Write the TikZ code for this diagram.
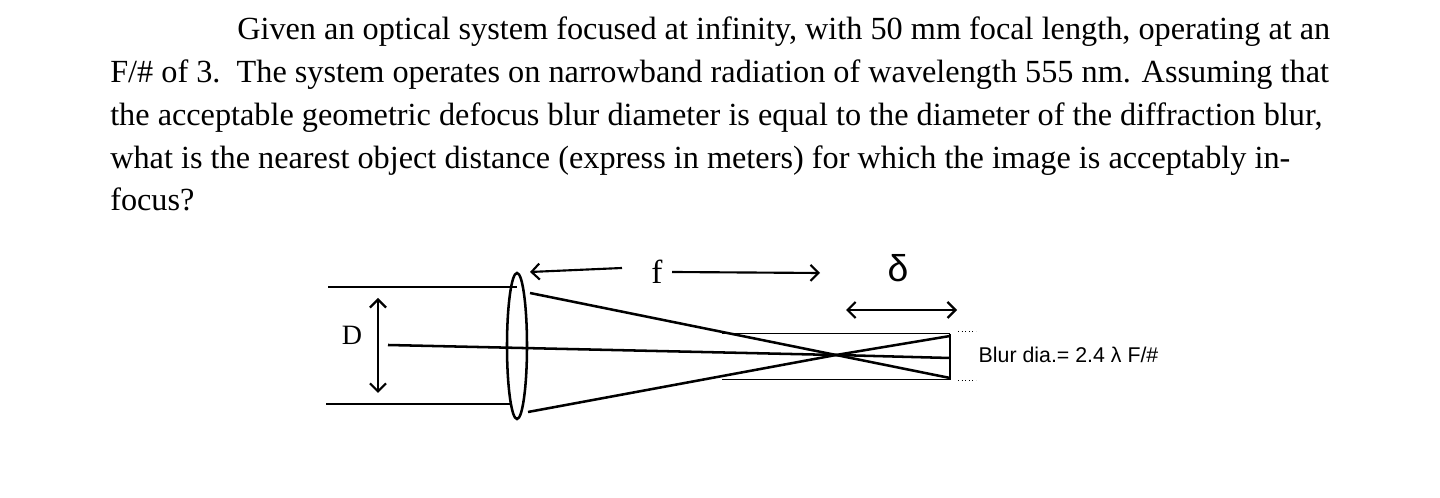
\documentclass[tikz,border=0pt]{standalone}
\usepackage{fontspec}
\setmainfont{Liberation Serif}
\newfontfamily\arialf{Liberation Sans}
\usetikzlibrary{arrows.meta}
\begin{document}
\begin{tikzpicture}[x=0.75pt,y=-0.75pt,
  txt/.style={anchor=base west,inner sep=0pt,font=\fontsize{24.2}{28}\selectfont},
  ray/.style={line width=1.9pt},
  thin/.style={line width=0.7pt},
  hand/.style={line width=1.6pt,{Straight Barb[length=6pt]}-{Straight Barb[length=6pt]}}]
\useasboundingbox (0,0) rectangle (1440,498);
\node[txt] (l1) at (237,40) {Given an optical system focused at infinity, with 50 mm focal length, operating at an};
\node[txt] (l2) at (110,83) {F/\# of 3.\ \ The system operates on narrowband radiation of wavelength 555 nm. Assuming that};
\node[txt] (l3) at (110,126) {the acceptable geometric defocus blur diameter is equal to the diameter of the diffraction blur,};
\node[txt] (l4) at (110,169) {what is the nearest object distance (express in meters) for which the image is acceptably in-};
\node[txt] (l5) at (110,211) {focus?};
% lens
\draw[ray] (517,346) ellipse (10 and 73);
\draw[ray] (328,287) -- (517,287);
\draw[ray] (326,404) -- (512,404);
\coordinate (x) at (836,355);
\draw[ray] (388,345) -- (x) -- (950,358);
\draw[ray] (530,293) -- (x) -- (950,378);
\draw[ray] (528,412) -- (x) -- (950,336);
\draw[ray] (950,334) -- (950,380);
\draw[thin] (722,333) -- (950,333);
\draw[thin] (722,379) -- (950,379);
\draw[thin,dotted] (958,331) -- (976,331);
\draw[thin,dotted] (958,380) -- (976,380);
% D
\draw[hand] (378,393) -- (378,298);
\node[font=\fontsize{21}{22}\selectfont] (D) at (352,335) {D};
% f
\draw[line width=1.6pt,{Straight Barb[length=6pt]}-] (530,272) -- (622,268);
\node[font=\fontsize{25}{26}\selectfont] (f) at (657,272) {f};
\draw[line width=1.6pt,-{Straight Barb[length=6pt]}] (672,272) -- (820,273);
% delta
\node[font=\fontsize{28}{30}\selectfont] (d) at (898,268) {\arialf δ};
\draw[hand] (846,310) -- (957,310);
\node[anchor=west,font=\arialf\fontsize{16}{18}\selectfont] (b) at (974,355) {Blur dia.= 2.4 λ F/\#};
\end{tikzpicture}
\end{document}
